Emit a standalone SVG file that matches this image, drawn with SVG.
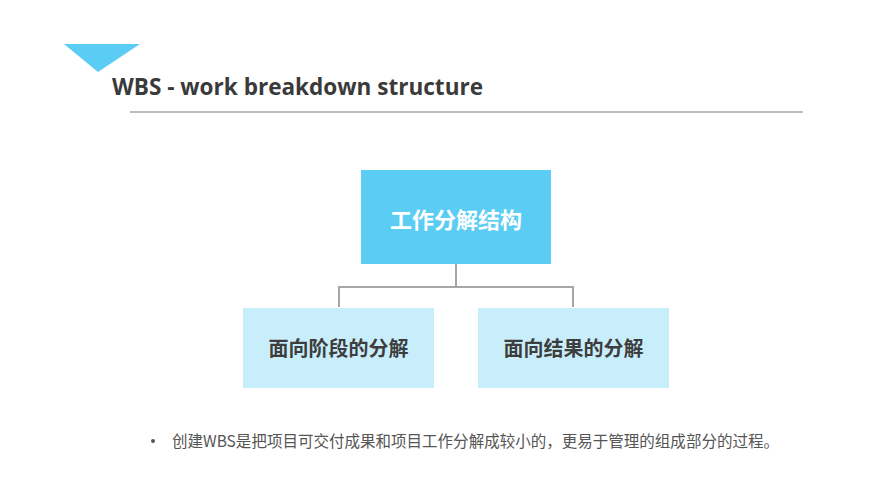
<svg xmlns="http://www.w3.org/2000/svg" width="881" height="492" viewBox="0 0 881 492">
<style>
.cjk{font-family:"Microsoft YaHei","Noto Sans CJK SC","Liberation Sans",sans-serif;font-weight:bold}
.child{fill:#c9eefb}
.clab{fill:#3d3d3d;font-size:20px;text-anchor:middle}
.conn{stroke:#a6a6a6;stroke-width:2;fill:none}
</style>
<rect width="881" height="492" fill="#ffffff"/>
<polygon points="64,44 140,44 98,72" fill="#5bcdf5"/>
<text x="112" y="95" font-family="'Open Sans','Liberation Sans',sans-serif" font-weight="bold" font-size="24" fill="#3a3a3a" textLength="371" lengthAdjust="spacingAndGlyphs">WBS - work breakdown structure</text>
<line x1="130" y1="112" x2="803" y2="112" stroke="#bdbdbd" stroke-width="2"/>
<g id="connectors">
<path class="conn" d="M456,264 V287 M339,307 V287 H573 V307"/>
</g>
<g id="root">
<rect x="361" y="170" width="190" height="94" fill="#5bcdf5"/>
<text class="cjk" x="456" y="228" font-size="22" fill="#ffffff" text-anchor="middle">工作分解结构</text>
</g>
<g id="phase">
<rect class="child" x="243" y="308" width="191" height="80"/>
<text class="cjk clab" x="338.5" y="356">面向阶段的分解</text>
</g>
<g id="result">
<rect class="child" x="478" y="308" width="191" height="80"/>
<text class="cjk clab" x="573.5" y="356">面向结果的分解</text>
</g>
<g id="note">
<circle cx="153" cy="441" r="2" fill="#555"/>
<text x="172" y="447" font-family="'Microsoft YaHei','Noto Sans CJK SC',sans-serif" font-size="16" fill="#555555" textLength="607" lengthAdjust="spacingAndGlyphs">创建WBS是把项目可交付成果和项目工作分解成较小的，更易于管理的组成部分的过程。</text>
</g>
</svg>
